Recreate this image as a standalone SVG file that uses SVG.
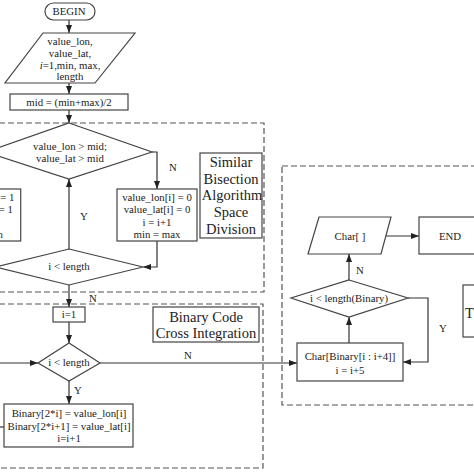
<svg xmlns="http://www.w3.org/2000/svg" width="474" height="474" viewBox="0 0 474 474">
<defs>
<marker id="ah" markerUnits="userSpaceOnUse" markerWidth="8" markerHeight="6" refX="8" refY="3" orient="auto">
<path d="M0,0 L8,3 L0,6 z" fill="#222"/>
</marker>
<style>
.s{fill:#fff;stroke:#444;stroke-width:1.2}
.c{fill:none;stroke:#333;stroke-width:1.2}
.a{fill:none;stroke:#333;stroke-width:1.2;marker-end:url(#ah)}
.d{fill:none;stroke:#555;stroke-width:1.2;stroke-dasharray:6 3}
text{font-family:"Liberation Serif","Times New Roman",serif;fill:#222;text-anchor:middle;font-size:10.8px}
.big{font-size:14.5px}
</style>
</defs>
<rect width="474" height="474" fill="#fff"/>
<g id="groups">
<rect class="d" x="-10" y="123" width="274" height="169"/>
<rect class="d" x="-10" y="304" width="273" height="164"/>
<rect class="d" x="282" y="166" width="210" height="239"/>
</g>
<g id="connectors">
<line class="a" x1="69" y1="20" x2="69" y2="33"/>
<line class="a" x1="69" y1="83" x2="69" y2="94"/>
<line class="a" x1="69" y1="110" x2="69" y2="123"/>
<polyline class="a" points="152,152 157,152 157,189"/>
<polyline class="a" points="157,241 157,267 143,267"/>
<line class="a" x1="69" y1="249" x2="69" y2="179"/>
<line class="a" x1="69" y1="285" x2="69" y2="307"/>
<line class="a" x1="69" y1="322" x2="69" y2="343"/>
<line class="a" x1="0" y1="363" x2="38" y2="363"/>
<line class="a" x1="69" y1="381" x2="69" y2="404"/>
<line class="a" x1="100" y1="363" x2="297" y2="363"/>
<line class="c" x1="4" y1="427" x2="0" y2="427"/>
<line class="a" x1="349" y1="343" x2="349" y2="317"/>
<line class="a" x1="349" y1="280" x2="349" y2="254"/>
<polyline class="a" points="408,298 428,298 428,362 403,362"/>
<line class="a" x1="386" y1="236" x2="419" y2="236"/>
</g>
<g id="begin">
<rect class="s" x="45" y="3" width="50" height="17" rx="8.5"/>
<text x="69" y="15">BEGIN</text>
</g>
<g id="input">
<polygon class="s" points="43,33 135,33 95,83 5,83"/>
<text x="70" y="44.5">value_lon,</text>
<text x="70" y="56.5">value_lat,</text>
<text x="70" y="68.5"><tspan font-style="italic">i</tspan>=1,min, max,</text>
<text x="70" y="80">length</text>
</g>
<g id="mid">
<rect class="s" x="10" y="94" width="118" height="16"/>
<text x="69" y="106">mid = (min+max)/2</text>
</g>
<g id="cond1">
<polygon class="s" points="69,123 152,152 69,179 -14,152"/>
<text x="70" y="149.5">value_lon &gt; mid;</text>
<text x="70" y="161.5">value_lat &gt; mid</text>
</g>
<g id="leftbox">
<rect class="s" x="-60" y="189" width="80.7" height="52"/>
<text x="-20.5" y="200.5">value_lon[i] = 1</text>
<text x="-20.5" y="213">value_lat[i] = 1</text>
<text x="-20.5" y="225.5">i = i+1</text>
<text x="-20.5" y="238">max = min</text>
</g>
<g id="rightbox">
<rect class="s" x="117" y="189" width="80" height="52"/>
<text x="157" y="200.5">value_lon[i] = 0</text>
<text x="157" y="213">value_lat[i] = 0</text>
<text x="157" y="225.5">i = i+1</text>
<text x="157" y="238">min = max</text>
</g>
<g id="cond2">
<polygon class="s" points="69,249 143,267 69,285 -5,267"/>
<text x="69" y="270">i &lt; length</text>
</g>
<g id="label1">
<rect class="s" x="200" y="153" width="62" height="85"/>
<text class="big" x="231" y="167">Similar</text>
<text class="big" x="231" y="183.5">Bisection</text>
<text class="big" x="232" y="200">Algorithm</text>
<text class="big" x="231" y="217">Space</text>
<text class="big" x="231" y="234">Division</text>
</g>
<g id="init">
<rect class="s" x="53" y="307" width="32" height="15"/>
<text x="69" y="318">i=1</text>
</g>
<g id="cond3">
<polygon class="s" points="69,343 100,363 69,381 38,363"/>
<text x="69" y="366">i &lt; length</text>
</g>
<g id="binary">
<rect class="s" x="4" y="404" width="129" height="43"/>
<text x="69" y="417">Binary[2*i] = value_lon[i]</text>
<text x="69" y="429.5">Binary[2*i+1] = value_lat[i]</text>
<text x="69" y="442">i=i+1</text>
</g>
<g id="label2">
<rect class="s" x="153" y="307" width="106" height="35"/>
<text class="big" x="206" y="322">Binary Code</text>
<text class="big" x="206" y="338">Cross Integration</text>
</g>
<g id="charbox">
<rect class="s" x="297" y="343" width="106" height="38"/>
<text x="350" y="360">Char[Binary[i : i+4]]</text>
<text x="350" y="373.5">i = i+5</text>
</g>
<g id="cond4">
<polygon class="s" points="349,280 408,298 349,317 291,298"/>
<text x="349" y="302">i &lt; length(Binary)</text>
</g>
<g id="output">
<polygon class="s" points="319,217 391,217 381,254 308,254"/>
<text x="350" y="240">Char[ ]</text>
</g>
<g id="end">
<rect class="s" x="419" y="217" width="62" height="37"/>
<text x="450" y="240">END</text>
</g>
<g id="label3">
<rect class="s" x="463" y="285" width="30" height="52"/>
<text class="big" x="465" y="318" style="text-anchor:start">T</text>
</g>
<g id="edge-labels">
<text x="173" y="171">N</text>
<text x="84" y="220">Y</text>
<text x="93" y="302">N</text>
<text x="188" y="359">N</text>
<text x="78" y="394">Y</text>
<text x="360" y="274">N</text>
<text x="443" y="332">Y</text>
</g>
</svg>
